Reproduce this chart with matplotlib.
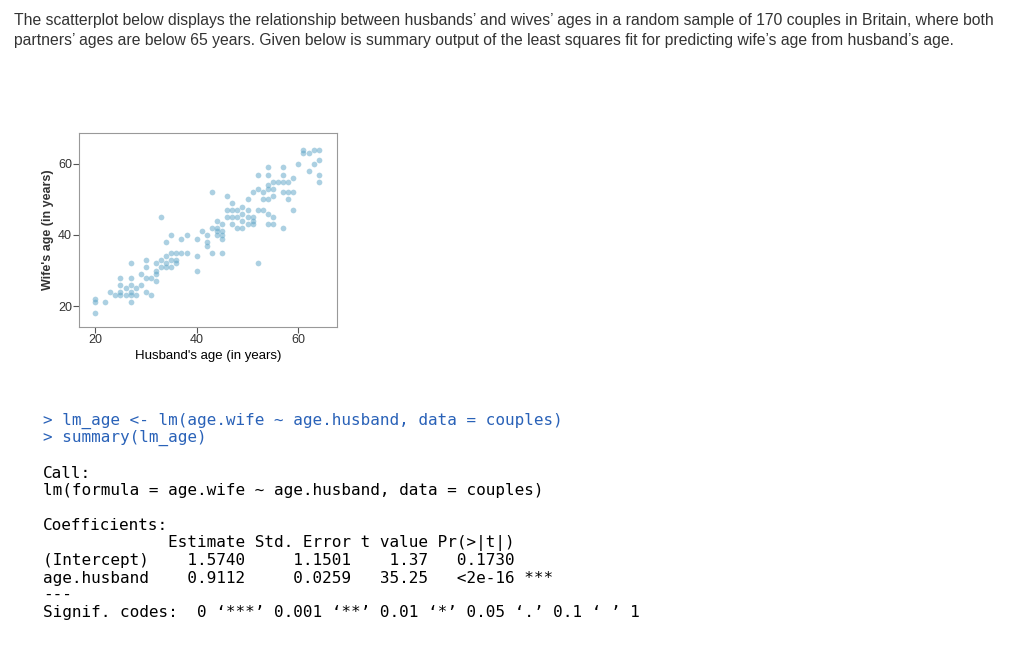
import matplotlib.pyplot as plt

husband_age = [20, 20, 20, 22, 23, 24, 25, 25, 25, 25, 26, 26, 27, 27, 27, 27, 27, 27,
               28, 28, 29, 29, 30, 30, 30, 30, 31, 31, 32, 32, 32, 32, 33, 33, 33,
               34, 34, 34, 34, 35, 35, 35, 35, 36, 36, 36, 37, 37, 38, 38, 40, 40, 40,
               41, 42, 42, 42, 43, 43, 43, 44, 44, 44, 44, 45, 45, 45, 45, 45, 46, 46,
               46, 47, 47, 47, 47, 48, 48, 48, 49, 49, 49, 49, 50, 50, 50, 50, 51, 51,
               51, 51, 52, 52, 52, 52, 53, 53, 53, 54, 54, 54, 54, 54, 54, 54, 55, 55,
               55, 55, 55, 56, 57, 57, 57, 57, 57, 58, 58, 58, 59, 59, 59, 60, 61, 61,
               62, 62, 63, 63, 64, 64, 64, 64]
wife_age = [22, 21, 18, 21, 24, 23, 23, 24, 26, 28, 25, 23, 28, 26, 24, 23, 21, 32,
            23, 25, 26, 29, 24, 28, 31, 33, 23, 28, 27, 29, 30, 32, 33, 31, 45,
            32, 31, 34, 38, 35, 33, 31, 40, 35, 33, 32, 35, 39, 35, 40, 39, 34, 30,
            41, 40, 38, 37, 42, 35, 52, 44, 42, 41, 40, 43, 41, 40, 39, 35, 51, 47,
            45, 49, 47, 45, 43, 47, 45, 42, 48, 46, 44, 42, 50, 47, 45, 43, 52, 45,
            44, 43, 57, 53, 47, 32, 52, 50, 47, 59, 57, 54, 53, 50, 46, 43, 55, 53,
            51, 45, 43, 55, 55, 59, 57, 52, 42, 55, 52, 50, 56, 52, 47, 60, 64, 63,
            63, 58, 64, 60, 64, 61, 57, 55]

header = ("The scatterplot below displays the relationship between husbands\u2019 and wives\u2019 ages in a random sample of 170 couples in Britain, where both\n"
          "partners\u2019 ages are below 65 years. Given below is summary output of the least squares fit for predicting wife\u2019s age from husband\u2019s age.")

W, H = 1024, 649
fig = plt.figure(figsize=(W / 100, H / 100), dpi=100)
fig.text(14 / W, 1 - 13 / H, header, fontsize=11.3, va="top", ha="left",
         color="#333333", family="Liberation Sans", linespacing=1.45)

ax = fig.add_axes([79 / W, 1 - 327 / H, (337 - 79) / W, (327 - 133) / H])
ax.scatter(husband_age, wife_age, s=17, color="#5ba3c6", alpha=0.5, linewidths=0)
ax.set_xlim(16.85, 67.6)
ax.set_ylim(14.1, 68.7)
ax.set_xticks([20, 40, 60])
ax.set_yticks([20, 40, 60])
ax.tick_params(labelsize=9, length=4, color="#555555", labelcolor="#333333", pad=1)
for lbl in ax.get_xticklabels() + ax.get_yticklabels():
    lbl.set_family("Liberation Sans")
for s in ax.spines.values():
    s.set_color("#999999")
ax.set_xlabel("Husband's age (in years)", fontsize=9.5, labelpad=3, family="Liberation Sans")
ax.set_ylabel("Wife's age (in years)", fontsize=9, fontweight="bold", labelpad=3,
              family="Liberation Sans", color="#333333")

blue = "#2a62b8"
mono = dict(family="DejaVu Sans Mono", fontsize=11.5, va="center", ha="left")
lines = [
    (421, "> lm_age <- lm(age.wife ~ age.husband, data = couples)", blue),
    (438, "> summary(lm_age)", blue),
    (473, "Call:", "black"),
    (490, "lm(formula = age.wife ~ age.husband, data = couples)", "black"),
    (525, "Coefficients:", "black"),
    (543, "             Estimate Std. Error t value Pr(>|t|)", "black"),
    (560, "(Intercept)    1.5740     1.1501    1.37   0.1730", "black"),
    (578, "age.husband    0.9112     0.0259   35.25   <2e-16 ***", "black"),
    (594, "---", "black"),
    (612, "Signif. codes:  0 \u2018***\u2019 0.001 \u2018**\u2019 0.01 \u2018*\u2019 0.05 \u2018.\u2019 0.1 \u2018 \u2019 1", "black"),
]
for y, s, c in lines:
    fig.text(43 / W, 1 - y / H, s, color=c, **mono)

fig.savefig("out.png", dpi=100, facecolor="white")
